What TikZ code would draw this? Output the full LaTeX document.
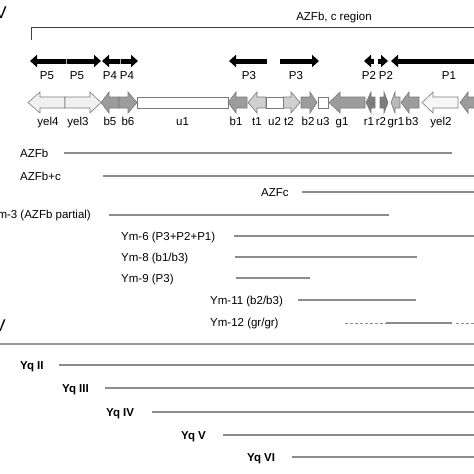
\documentclass[tikz,border=0pt]{standalone}
\usepackage{fontspec}
\setmainfont{Liberation Sans}
\usetikzlibrary{arrows.meta, positioning}
\definecolor{linegray}{HTML}{8C8C8C}
\definecolor{edgegray}{HTML}{7A7A7A}
\definecolor{palegene}{HTML}{F1F1F1}
\definecolor{midgene}{HTML}{9C9C9C}
\definecolor{lightgene}{HTML}{D0D0D0}
\definecolor{darkgene}{HTML}{7C7C7C}
\definecolor{grgene}{HTML}{BABABA}

\begin{document}
\begin{tikzpicture}[
    x=1pt, y=-1pt,
    lbl/.style={inner sep=0pt, text height=8pt, text depth=0pt, font=\fontsize{11.5}{13}\selectfont},
    gene/.style={draw=edgegray, line width=0.6pt},
    primer/.style={line width=5pt, -{Triangle[length=7pt, width=12pt]}},
    dprimer/.style={line width=5pt, {Triangle[length=7pt, width=12pt]}-{Triangle[length=7pt, width=12pt]}},
    del/.style={draw=linegray, line width=1.2pt},
]
\path[use as bounding box, clip] (0,0) rectangle (474,474);

% cut-off panel letters
\node[lbl, font=\fontsize{17}{19}\selectfont, anchor=center] (panA) at (1,14) {V};
\node[lbl, font=\fontsize{17}{19}\selectfont, anchor=center] (panB) at (0,327) {V};

% region bracket
\node[lbl] (region) at (334,16) {AZFb, c region};
\draw[draw=black!75, line width=0.9pt] (31,40) -- (31,27) -- (480,27);

% primers
\draw[dprimer] (30,61) -- (101,61);
\draw[dprimer] (102,61) -- (138,61);
\draw[primer] (267,61) -- (229,61);
\draw[primer] (280,61) -- (319,61);
\draw[primer] (374,61) -- (364,61);
\draw[primer] (378,61) -- (388,61);
\draw[primer] (485,61) -- (391,61);
\foreach \x in {66, 120} {
    \draw[gray!60, line width=0.5pt] (\x,58.5) -- (\x,63.5);
}
\foreach \nm/\txt/\x in {p5a/P5/47, p5b/P5/77, p4a/P4/110, p4b/P4/127, p3a/P3/249, p3b/P3/296, p2a/P2/369, p2b/P2/386, p1/P1/449} {
    \node[lbl] (\nm) at (\x,75) {\txt};
}

% genes: tip / head base / tail / label x / fill
\foreach \nm/\tip/\hb/\tail/\lx/\col in {yel4/28/40/65/48/palegene, yel3/101/90/65/78/palegene,
    b5/101/109/119/110/midgene, b6/137/128/119/128/midgene, b1/228/236/247/236/midgene,
    t1/248/257/266/257/lightgene, t2/300/291/283/289/lightgene, b2/317/310/301/308/midgene,
    g1/329/340/365/342/midgene, r1/366/371/375/369/darkgene, r2/388/384/380/381/darkgene,
    gr1/391/395/400/396/grgene, b3/401/409/419/412/midgene, yel2/422/433/458/441/palegene!60!white} {
    \draw[gene, fill=\col] (\tip,102.5) -- (\hb,92) -- (\hb,97) -- (\tail,97) -- (\tail,108) -- (\hb,108) -- (\hb,113) -- cycle;
    \node[lbl] (\nm) at (\lx,121) {\nm};
}
\draw[gene, fill=midgene] (460,102.5) -- (468,92) -- (468,97) -- (490,97) -- (490,108) -- (468,108) -- (468,113) -- cycle;
\foreach \nm/\xa/\xb in {u1/137/228, u2/266/283, u3/318/328} {
    \draw[gene, fill=white] (\xa,97) rectangle (\xb,108);
    \node[lbl] (\nm) at ({(\xa+\xb)/2},121) {\nm};
}

% deletions
\foreach \nm/\txt/\lx/\y/\xa/\xb in {azfb/AZFb/20/153/64/452, azfbc/AZFb+c/20/176/103/480,
    azfc/AZFc/261/192/302/480, ym6/{Ym-6 (P3+P2+P1)}/121/236/234/480,
    ym8/{Ym-8 (b1/b3)}/121/257/235/417, ym9/{Ym-9 (P3)}/121/278/236/310,
    ym11/{Ym-11 (b2/b3)}/210/300/298/416} {
    \node[lbl, anchor=west] (\nm) at (\lx,\y) {\txt};
    \draw[del] (\xa,\y) -- (\xb,\y);
}
\node[lbl, anchor=east] (ym3) at (91,214) {Ym-3 (AZFb partial)};
\draw[del] (109,215) -- (389,215);
\node[lbl, anchor=west] (ym12) at (210,322) {Ym-12 (gr/gr)};
\draw[del, line width=0.9pt, dash pattern=on 3pt off 2pt] (345,323) -- (386,323);
\draw[del] (386,323) -- (452,323);
\draw[del, line width=0.9pt, dash pattern=on 3pt off 2pt] (456,323) -- (480,323);

% Yq haplotypes
\draw[draw=gray!80, line width=1.2pt] (-5,344) -- (480,344);
\foreach \nm/\txt/\lx/\y/\xa in {yq2/{Yq II}/20/365/59, yq3/{Yq III}/62/388/105,
    yq4/{Yq IV}/106/412/152, yq5/{Yq V}/181/435/223, yq6/{Yq VI}/247/457/292} {
    \node[lbl, anchor=west, font=\fontsize{11.5}{13}\selectfont\bfseries] (\nm) at (\lx,\y) {\txt};
    \draw[del] (\xa,\y) -- (480,\y);
}

\end{tikzpicture}
\end{document}
